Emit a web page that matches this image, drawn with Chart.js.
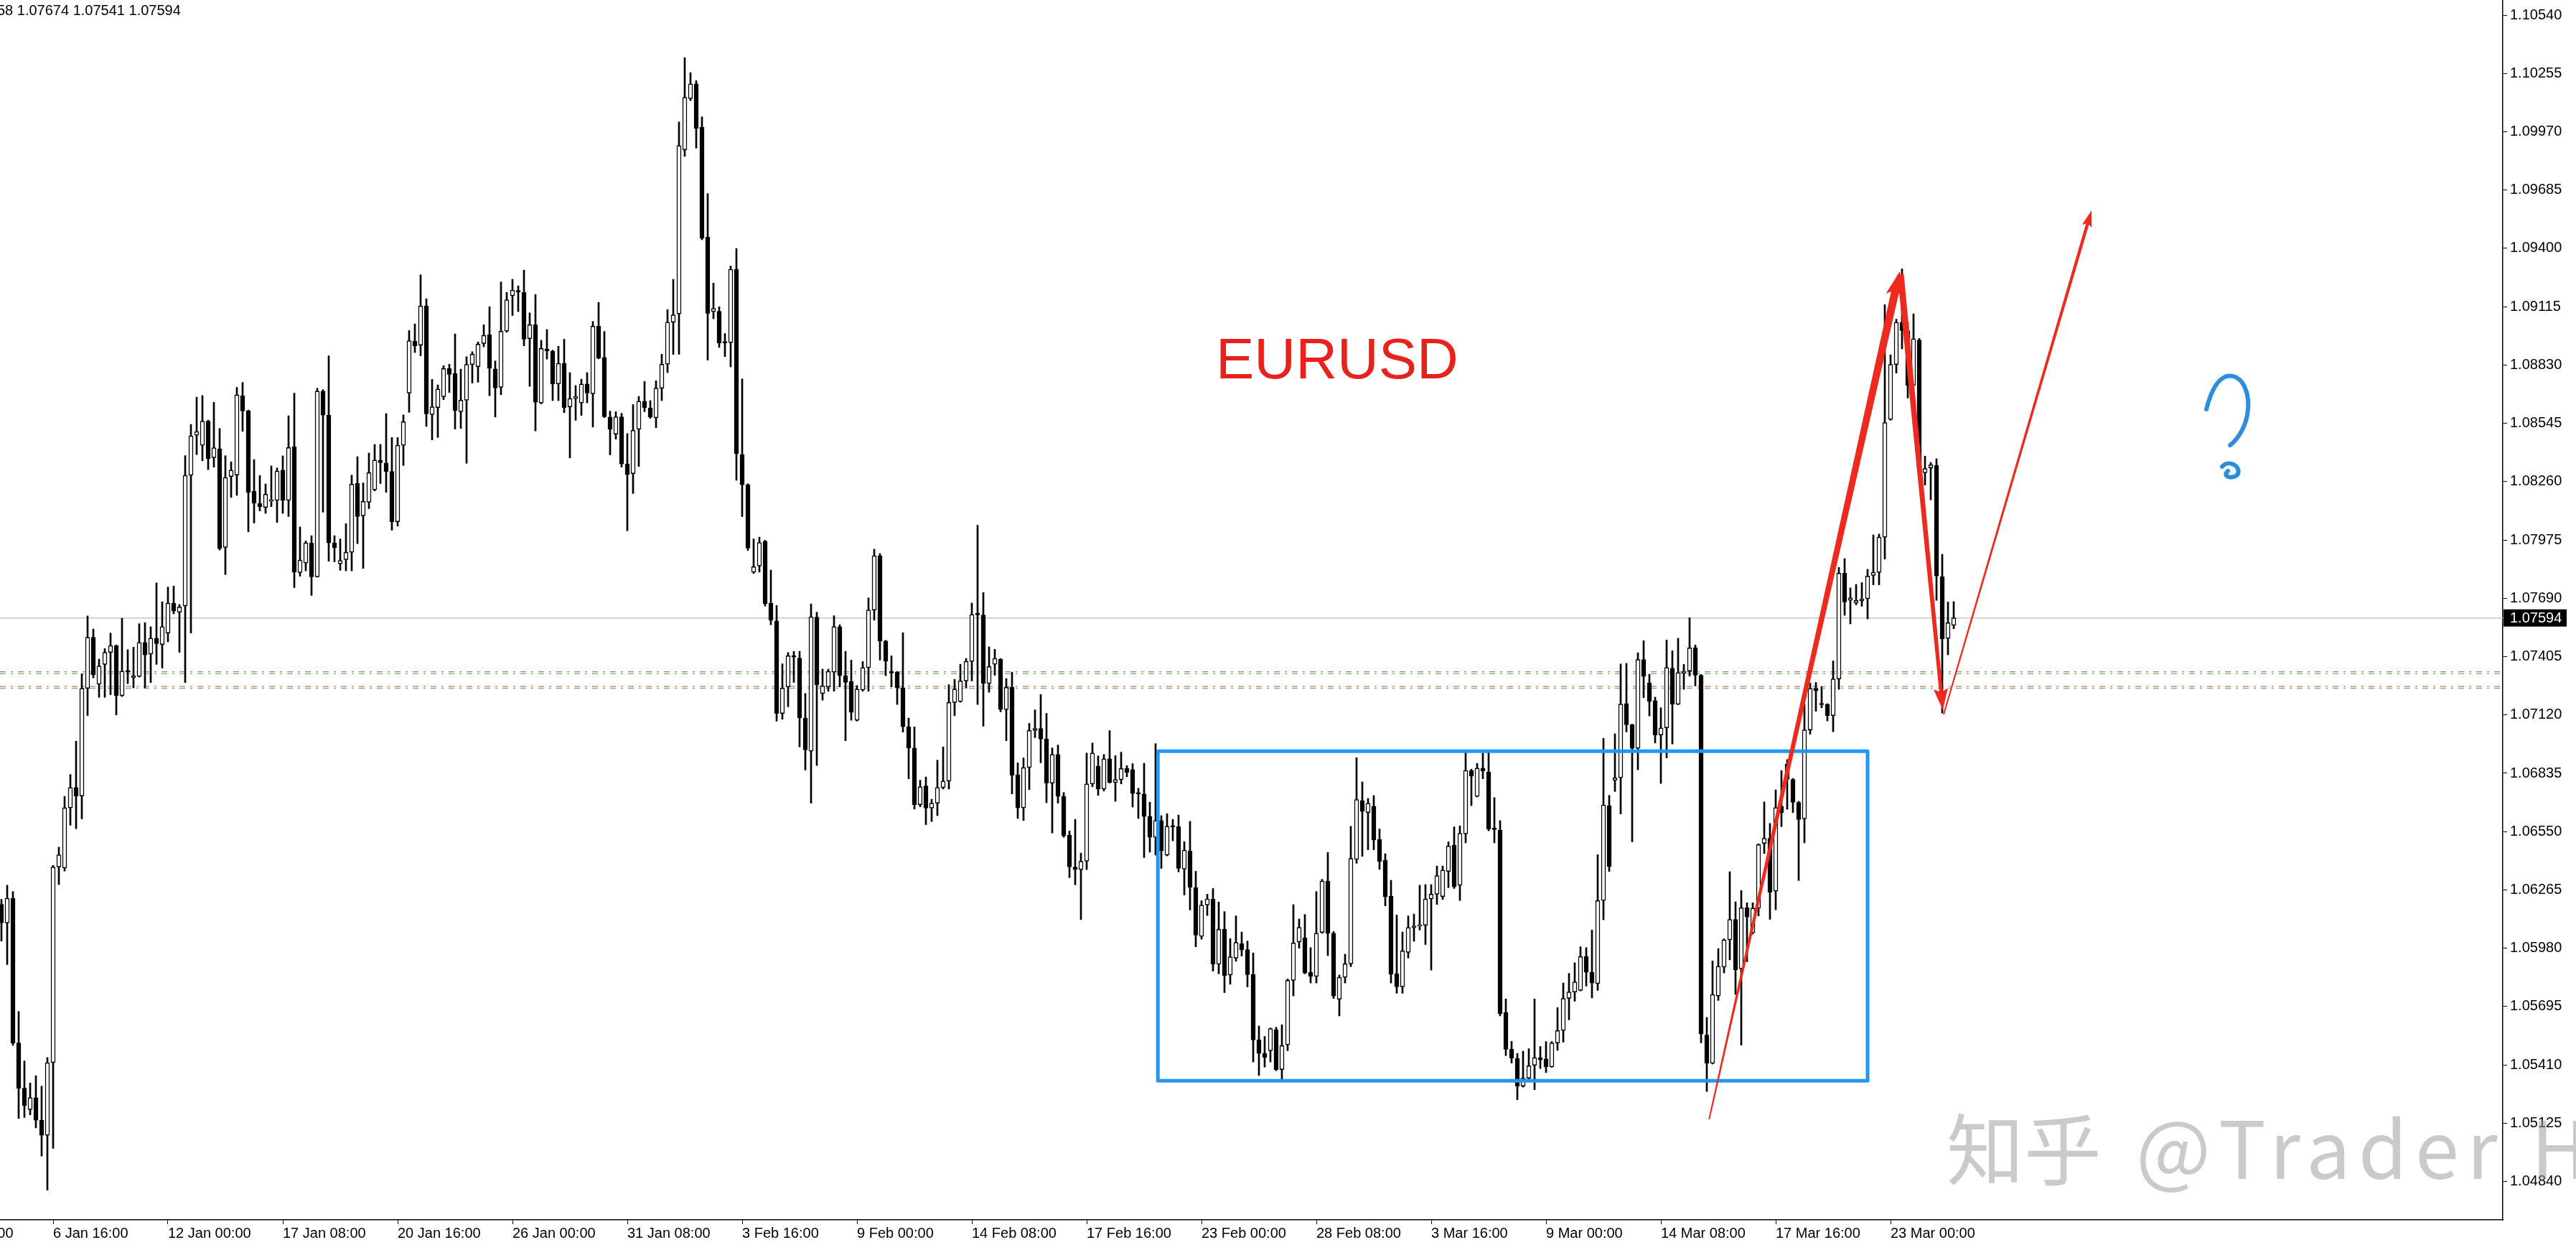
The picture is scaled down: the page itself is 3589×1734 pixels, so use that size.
<!DOCTYPE html>
<html><head><meta charset="utf-8">
<script src="https://cdn.jsdelivr.net/npm/chart.js@4.4.0/dist/chart.umd.min.js"></script>
<style>html,body{margin:0;padding:0;background:#fff;overflow:hidden}canvas{display:block}</style>
</head><body>
<canvas id="c" width="3589" height="1734"></canvas>
<script>
// ---- data: H4 EURUSD candles (index 0 = 5 Jan 04:00) ----
const opens = [
1.06194,1.06104,1.06224,1.05517,1.05296,1.05191,1.05250,1.05140,1.05066,1.05421,
1.06377,1.06372,1.06666,1.06765,1.06724,1.07250,1.07500,1.07270,1.07367,1.07426,
1.07459,1.07214,1.07334,1.07303,1.07308,1.07474,1.07418,1.07495,1.07464,1.07520,
1.07666,1.07622,1.07653,1.08291,1.08487,1.08438,1.08556,1.08377,1.08421,1.07939,
1.08285,1.08292,1.08680,1.08606,1.08214,1.08154,1.08134,1.08164,1.08169,1.08316,
1.08169,1.08430,1.07816,1.07862,1.07961,1.07795,1.08702,1.08585,1.07961,1.07859,
1.07879,1.07915,1.08251,1.08093,1.08160,1.08220,1.08365,1.08351,1.08310,1.08064,
1.08438,1.08693,1.08947,1.08927,1.09119,1.08588,1.08622,1.08676,1.08813,1.08789,
1.08602,1.08658,1.08833,1.08822,1.08935,1.08978,1.08811,1.08721,1.08996,1.09169,
1.09189,1.09185,1.08959,1.09027,1.08645,1.08908,1.08898,1.08738,1.08838,1.08626,
1.08666,1.08645,1.08737,1.08690,1.09020,1.08867,1.08576,1.08492,1.08577,1.08347,
1.08299,1.08516,1.08653,1.08621,1.08572,1.08717,1.08834,1.09040,1.09080,1.09882,
1.10132,1.10204,1.09993,1.09455,1.09091,1.09093,1.08940,1.08940,1.09298,1.08393,
1.08245,1.07818,1.07848,1.07969,1.07665,1.07579,1.07127,1.07257,1.07405,1.07398,
1.07105,1.06943,1.07598,1.07225,1.07257,1.07329,1.07551,1.07312,1.07283,1.07094,
1.07242,1.07351,1.07633,1.07898,1.07481,1.07329,1.07329,1.07253,1.07062,1.06958,
1.06682,1.06773,1.06665,1.06689,1.06765,1.06797,1.07181,1.07185,1.07286,1.07382,
1.07611,1.07608,1.07274,1.07368,1.07393,1.07147,1.07255,1.06828,1.06666,1.06863,
1.07044,1.07054,1.07002,1.06787,1.06927,1.06722,1.06533,1.06377,1.06364,1.06405,
1.06783,1.06870,1.06758,1.06906,1.06790,1.06804,1.06858,1.06853,1.06736,1.06734,
1.06625,1.06522,1.06604,1.06435,1.06574,1.06574,1.06367,1.06455,1.06276,1.06038,
1.06191,1.06221,1.05902,1.06072,1.05849,1.05932,1.06002,1.05973,1.05851,1.05532,
1.05466,1.05479,1.05581,1.05387,1.05508,1.05823,1.06011,1.06030,1.05862,1.05842,
1.06057,1.06308,1.06053,1.05731,1.05838,1.05904,1.06414,1.06701,1.06643,1.06674,
1.06512,1.06410,1.06234,1.05855,1.05791,1.05960,1.06080,1.06088,1.06092,1.06221,
1.06244,1.06233,1.06355,1.06484,1.06288,1.06539,1.06849,1.06722,1.06860,1.06841,
1.06562,1.06557,1.05665,1.05486,1.05442,1.05306,1.05345,1.05408,1.05445,1.05439,
1.05400,1.05517,1.05578,1.05735,1.05766,1.05774,1.05940,1.05862,1.05807,1.06213,
1.06677,1.06800,1.06813,1.07176,1.07072,1.06957,1.07391,1.07276,1.07190,1.07022,
1.07057,1.07348,1.07172,1.07324,1.07334,1.07448,1.07314,1.05556,1.05418,1.05747,
1.05888,1.06021,1.06121,1.05880,1.06178,1.06056,1.06176,1.06492,1.06517,1.06259,
1.06673,1.06879,1.06805,1.06693,1.06612,1.07047,1.07250,1.07172,1.07172,1.07117,
1.07296,1.07813,1.07681,1.07667,1.07677,1.07688,1.07802,1.07817,1.07989,1.08564,
1.08833,1.09039,1.08998,1.08731,1.08952,1.08304,1.08327,1.08339,1.07796,1.07494,
1.07558];
const highs = [
1.06219,1.06288,1.06257,1.05671,1.05429,1.05321,1.05357,1.05306,1.05446,1.06385,
1.06474,1.06722,1.06829,1.06992,1.07321,1.07604,1.07540,1.07393,1.07444,1.07520,
1.07462,1.07592,1.07439,1.07451,1.07566,1.07571,1.07551,1.07765,1.07673,1.07745,
1.07750,1.07660,1.08387,1.08540,1.08673,1.08681,1.08561,1.08648,1.08520,1.08387,
1.08357,1.08721,1.08745,1.08610,1.08368,1.08290,1.08249,1.08337,1.08327,1.08386,
1.08582,1.08693,1.08039,1.07970,1.07996,1.08716,1.08710,1.08875,1.07996,1.07980,
1.08055,1.08292,1.08382,1.08254,1.08400,1.08442,1.08442,1.08593,1.08476,1.08476,
1.08586,1.08999,1.09031,1.09271,1.09154,1.08760,1.08733,1.08827,1.08834,1.08982,
1.08810,1.08871,1.08895,1.08943,1.09027,1.09115,1.08850,1.09236,1.09185,1.09249,
1.09217,1.09294,1.09085,1.09175,1.08951,1.09004,1.08903,1.08922,1.08956,1.08793,
1.08730,1.08761,1.08793,1.09043,1.09136,1.08994,1.08605,1.08602,1.08594,1.08495,
1.08637,1.08677,1.08750,1.08656,1.08753,1.08883,1.09101,1.09249,1.10018,1.10332,
1.10259,1.10220,1.10043,1.09668,1.09230,1.09115,1.08984,1.09314,1.09400,1.08762,
1.08250,1.07980,1.07989,1.07974,1.07828,1.07655,1.07370,1.07425,1.07431,1.07431,
1.07225,1.07663,1.07622,1.07344,1.07344,1.07605,1.07561,1.07431,1.07388,1.07264,
1.07381,1.07692,1.07930,1.07909,1.07485,1.07409,1.07333,1.07522,1.07105,1.07062,
1.06801,1.06817,1.06708,1.06899,1.06964,1.07268,1.07294,1.07368,1.07396,1.07667,
1.08047,1.07718,1.07453,1.07441,1.07396,1.07298,1.07329,1.06886,1.06910,1.07079,
1.07145,1.07220,1.07128,1.06959,1.06973,1.06741,1.06553,1.06610,1.06445,1.06934,
1.06983,1.06920,1.06927,1.07044,1.06921,1.06938,1.06872,1.06882,1.06762,1.06884,
1.06694,1.06980,1.06628,1.06638,1.06610,1.06631,1.06501,1.06600,1.06356,1.06212,
1.06244,1.06272,1.06206,1.06159,1.06027,1.06138,1.06059,1.06015,1.05957,1.05600,
1.05549,1.05590,1.05594,1.05606,1.05830,1.06193,1.06123,1.06145,1.05983,1.06257,
1.06317,1.06448,1.06062,1.05849,1.05951,1.06576,1.06911,1.06793,1.06712,1.06726,
1.06563,1.06442,1.06312,1.06142,1.06059,1.06138,1.06147,1.06288,1.06291,1.06291,
1.06382,1.06382,1.06500,1.06573,1.06578,1.06938,1.06855,1.06883,1.06933,1.06943,
1.06716,1.06604,1.05732,1.05525,1.05466,1.05477,1.05489,1.05732,1.05500,1.05524,
1.05524,1.05690,1.05810,1.05857,1.05909,1.05987,1.05983,1.06069,1.06437,1.07006,
1.06727,1.07028,1.07369,1.07372,1.07075,1.07424,1.07483,1.07319,1.07207,1.07155,
1.07486,1.07434,1.07495,1.07367,1.07595,1.07462,1.07318,1.05642,1.05918,1.05978,
1.06026,1.06354,1.06207,1.06262,1.06202,1.06202,1.06490,1.06695,1.06590,1.06754,
1.06848,1.06902,1.06810,1.06698,1.07172,1.07276,1.07279,1.07259,1.07175,1.07384,
1.07841,1.07884,1.07741,1.07758,1.07767,1.07832,1.08000,1.08004,1.09125,1.08880,
1.09054,1.09300,1.09039,1.09080,1.08960,1.08385,1.08354,1.08372,1.07905,1.07672,
1.07674];
const lows = [
1.06015,1.05900,1.05505,1.05148,1.05153,1.05166,1.05102,1.04964,1.04798,1.05002,
1.06291,1.06357,1.06581,1.06564,1.06612,1.07117,1.07301,1.07206,1.07206,1.07219,
1.07120,1.07210,1.07273,1.07252,1.07305,1.07252,1.07278,1.07367,1.07349,1.07477,
1.07614,1.07426,1.07278,1.07520,1.08392,1.08362,1.08319,1.08331,1.07926,1.07806,
1.08183,1.08193,1.08506,1.08015,1.08058,1.08117,1.08105,1.08138,1.08061,1.08105,
1.08090,1.07742,1.07798,1.07824,1.07704,1.07793,1.08111,1.07871,1.07868,1.07827,
1.07824,1.07824,1.07957,1.07836,1.08128,1.08215,1.08251,1.08208,1.08023,1.08043,
1.08339,1.08599,1.08891,1.08875,1.08530,1.08464,1.08476,1.08661,1.08696,1.08517,
1.08520,1.08350,1.08742,1.08746,1.08919,1.08680,1.08576,1.08685,1.08990,1.09072,
1.09091,1.08924,1.08726,1.08508,1.08640,1.08859,1.08656,1.08656,1.08597,1.08376,
1.08560,1.08584,1.08645,1.08527,1.08860,1.08573,1.08391,1.08468,1.08331,1.08020,
1.08202,1.08334,1.08602,1.08569,1.08524,1.08656,1.08793,1.08882,1.08883,1.09850,
1.10122,1.09890,1.09442,1.08854,1.09056,1.08916,1.08871,1.08821,1.08267,1.08089,
1.07924,1.07811,1.07818,1.07652,1.07561,1.07090,1.07099,1.07160,1.07279,1.06964,
1.06851,1.06689,1.06873,1.07192,1.07236,1.07236,1.07257,1.06994,1.07094,1.07090,
1.07236,1.07236,1.07583,1.07388,1.07312,1.07257,1.07171,1.07036,1.06808,1.06660,
1.06671,1.06584,1.06599,1.06628,1.06758,1.06758,1.07116,1.07182,1.07251,1.07286,
1.07171,1.07065,1.07231,1.07314,1.07135,1.06994,1.06734,1.06614,1.06604,1.06755,
1.07009,1.06886,1.06691,1.06543,1.06689,1.06522,1.06325,1.06290,1.06120,1.06364,
1.06769,1.06727,1.06748,1.06787,1.06698,1.06783,1.06818,1.06670,1.06614,1.06423,
1.06449,1.06435,1.06370,1.06431,1.06505,1.06353,1.06240,1.06167,1.05987,1.06024,
1.06140,1.05868,1.05855,1.05763,1.05804,1.05916,1.05942,1.05791,1.05424,1.05358,
1.05399,1.05424,1.05381,1.05339,1.05479,1.05747,1.05980,1.05855,1.05810,1.05810,
1.06053,1.05944,1.05734,1.05649,1.05810,1.05890,1.06395,1.06429,1.06461,1.06461,
1.06365,1.06187,1.05810,1.05760,1.05760,1.05932,1.06014,1.06069,1.05998,1.05873,
1.06194,1.06218,1.06276,1.06272,1.06213,1.06495,1.06677,1.06719,1.06808,1.06554,
1.06495,1.05649,1.05455,1.05419,1.05239,1.05301,1.05341,1.05289,1.05392,1.05372,
1.05398,1.05481,1.05521,1.05630,1.05721,1.05771,1.05795,1.05737,1.05774,1.06119,
1.06355,1.06746,1.06636,1.07037,1.06500,1.06852,1.07204,1.07115,1.06983,1.06785,
1.06910,1.06978,1.07170,1.07245,1.07310,1.07262,1.05518,1.05280,1.05414,1.05725,
1.05859,1.05923,1.05754,1.05506,1.05914,1.06049,1.06138,1.06443,1.06121,1.06168,
1.06574,1.06659,1.06643,1.06311,1.06495,1.07026,1.07138,1.07155,1.07091,1.07038,
1.07245,1.07607,1.07565,1.07658,1.07651,1.07589,1.07756,1.07756,1.07882,1.08560,
1.08791,1.08909,1.08669,1.08728,1.08320,1.08243,1.08171,1.07680,1.07129,1.07414,
1.07541];
const closes = [
1.06104,1.06224,1.05517,1.05296,1.05211,1.05250,1.05140,1.05066,1.05421,1.06377,
1.06436,1.06666,1.06765,1.06724,1.07250,1.07500,1.07316,1.07359,1.07426,1.07459,
1.07214,1.07334,1.07330,1.07311,1.07474,1.07413,1.07495,1.07469,1.07551,1.07666,
1.07627,1.07648,1.08291,1.08484,1.08505,1.08556,1.08372,1.08426,1.07933,1.08280,
1.08316,1.08684,1.08605,1.08208,1.08155,1.08138,1.08199,1.08172,1.08312,1.08169,
1.08427,1.07818,1.07877,1.07961,1.07795,1.08702,1.08585,1.07961,1.07938,1.07875,
1.07915,1.08248,1.08090,1.08164,1.08304,1.08365,1.08353,1.08310,1.08064,1.08438,
1.08553,1.08949,1.08924,1.09119,1.08591,1.08626,1.08713,1.08813,1.08784,1.08608,
1.08658,1.08833,1.08883,1.08932,1.08975,1.08814,1.08718,1.08995,1.09149,1.09196,
1.09187,1.08956,1.09027,1.08648,1.08911,1.08898,1.08738,1.08838,1.08621,1.08666,
1.08677,1.08737,1.08693,1.09020,1.08863,1.08577,1.08516,1.08577,1.08347,1.08294,
1.08511,1.08653,1.08621,1.08576,1.08717,1.08834,1.09040,1.09075,1.09902,1.10138,
1.10204,1.09987,1.09450,1.09083,1.09107,1.08938,1.08938,1.09298,1.08397,1.08245,
1.07935,1.07844,1.07963,1.07663,1.07583,1.07127,1.07251,1.07409,1.07403,1.07105,
1.06949,1.07600,1.07268,1.07262,1.07333,1.07551,1.07312,1.07279,1.07133,1.07246,
1.07351,1.07633,1.07898,1.07481,1.07383,1.07325,1.07253,1.07062,1.06958,1.06682,
1.06769,1.06665,1.06689,1.06765,1.06797,1.07181,1.07246,1.07286,1.07382,1.07611,
1.07609,1.07274,1.07357,1.07396,1.07147,1.07255,1.06825,1.06666,1.06863,1.07044,
1.07054,1.07002,1.06787,1.06927,1.06722,1.06529,1.06377,1.06364,1.06405,1.06783,
1.06934,1.06759,1.06906,1.06790,1.06804,1.06858,1.06839,1.06736,1.06734,1.06624,
1.06522,1.06604,1.06455,1.06576,1.06572,1.06370,1.06459,1.06278,1.06044,1.06191,
1.06221,1.05902,1.06072,1.05846,1.05938,1.06008,1.05973,1.05851,1.05532,1.05466,
1.05447,1.05587,1.05387,1.05504,1.05823,1.06006,1.06082,1.05859,1.05842,1.06053,
1.06308,1.06053,1.05747,1.05838,1.05904,1.06419,1.06707,1.06648,1.06688,1.06509,
1.06404,1.06231,1.05853,1.05791,1.05967,1.06081,1.06088,1.06094,1.06221,1.06244,
1.06335,1.06362,1.06479,1.06280,1.06542,1.06849,1.06821,1.06860,1.06847,1.06562,
1.06560,1.05661,1.05486,1.05442,1.05306,1.05345,1.05406,1.05445,1.05434,1.05400,
1.05517,1.05578,1.05735,1.05766,1.05815,1.05939,1.05862,1.05810,1.06213,1.06680,
1.06379,1.06813,1.07173,1.07072,1.06957,1.07391,1.07309,1.07186,1.07022,1.07057,
1.07352,1.07172,1.07327,1.07334,1.07448,1.07314,1.05561,1.05418,1.05754,1.05892,
1.06021,1.06121,1.05875,1.06178,1.06133,1.06176,1.06486,1.06517,1.06254,1.06667,
1.06643,1.06805,1.06693,1.06609,1.07047,1.07250,1.07238,1.07170,1.07117,1.07296,
1.07813,1.07672,1.07693,1.07679,1.07686,1.07799,1.07817,1.07989,1.08549,1.08833,
1.09039,1.08998,1.08731,1.08958,1.08324,1.08324,1.08343,1.07799,1.07491,1.07571,
1.07594];

// time-axis labels (bar index -> label)
const timeTickIndex = [-11, 9, 29, 49, 69, 89, 109, 129, 149, 169, 189, 209, 229, 249, 269, 289, 309, 329];
const timeTickLabels = ["3 Jan 08:00","6 Jan 16:00","12 Jan 00:00","17 Jan 08:00","20 Jan 16:00","26 Jan 00:00",
  "31 Jan 08:00","3 Feb 16:00","9 Feb 00:00","14 Feb 08:00","17 Feb 16:00","23 Feb 00:00","28 Feb 08:00",
  "3 Mar 16:00","9 Mar 00:00","14 Mar 08:00","17 Mar 16:00","23 Mar 00:00"];
// price-axis labels
const priceTicks = [1.04840,1.05125,1.05410,1.05695,1.05980,1.06265,1.06550,1.06835,1.07120,1.07405,
  1.07690,1.07975,1.08260,1.08545,1.08830,1.09115,1.09400,1.09685,1.09970,1.10255,1.10540];
const infoText = "58 1.07674 1.07541 1.07594";
const lastPrice = 1.07594;
const levelPrices = [1.07331, 1.07322, 1.07259, 1.07250];
const levelColors = ["#c87a5c", "#5c9a55", "#c87a5c", "#5c9a55"];
// drawn annotations (bar index, price)
const boxCorners = [[201.4, 1.06943], [325.0, 1.05332]];
const arrowUp1 = [[297.4, 1.05144], [330.6, 1.09288]];
const arrowDown = [[330.75, 1.09274], [338.1, 1.07144]];
const arrowUp2 = [[338.25, 1.07123], [364.0, 1.09586]];
const titleText = "EURUSD";
const titleAnchor = [211.5, 1.08765];
const questionAnchor = [384.0, 1.08614];
const watermarkCJK = "知乎";
const watermarkLatin = "@Trader H";

const idx = opens.map((_, i) => i);
const up = idx.map(i => closes[i] >= opens[i]);

function taperArrow(ctx, x0, y0, x1, y1, w0, w1, hl, hw) {
  const dx = x1 - x0, dy = y1 - y0, L = Math.hypot(dx, dy);
  const ux = dx / L, uy = dy / L, nx = -uy, ny = ux;
  const bx = x1 - ux * hl, by = y1 - uy * hl;
  ctx.beginPath();
  ctx.moveTo(x0 + nx * w0 / 2, y0 + ny * w0 / 2);
  ctx.lineTo(bx + nx * w1 / 2, by + ny * w1 / 2);
  ctx.lineTo(bx - ux * hl * 0.15 + nx * hw / 2, by - uy * hl * 0.15 + ny * hw / 2);
  ctx.lineTo(x1, y1);
  ctx.lineTo(bx - ux * hl * 0.15 - nx * hw / 2, by - uy * hl * 0.15 - ny * hw / 2);
  ctx.lineTo(bx - nx * w1 / 2, by - ny * w1 / 2);
  ctx.lineTo(x0 - nx * w0 / 2, y0 - ny * w0 / 2);
  ctx.closePath();
  ctx.fill();
}

const overlay = {
  id: 'overlay',
  beforeDatasetsDraw(chart) {
    const { ctx, chartArea: a, scales: { y } } = chart;
    ctx.save();
    ctx.strokeStyle = '#c4c4c4'; ctx.lineWidth = 1.5;
    const py = y.getPixelForValue(lastPrice);
    ctx.beginPath(); ctx.moveTo(a.left, py); ctx.lineTo(a.right, py); ctx.stroke();
    ctx.lineWidth = 1.1;
    ctx.setLineDash([8, 7, 3, 7]);
    levelPrices.forEach((v, i) => {
      const ly = y.getPixelForValue(v);
      ctx.strokeStyle = levelColors[i];
      ctx.beginPath(); ctx.moveTo(a.left, ly); ctx.lineTo(a.right, ly); ctx.stroke();
    });
    ctx.restore();
  },
  afterDatasetsDraw(chart) {
    const { ctx, scales: { x, y } } = chart;
    const P = (p) => [x.getPixelForValue(p[0]), y.getPixelForValue(p[1])];
    ctx.save();
    // blue box
    const [b0, b1] = [P(boxCorners[0]), P(boxCorners[1])];
    ctx.strokeStyle = '#2196f3'; ctx.lineWidth = 5; ctx.lineJoin = 'round';
    ctx.strokeRect(b0[0], b0[1], b1[0] - b0[0], b1[1] - b0[1]);
    // red arrows
    ctx.fillStyle = '#ee2a1e';
    let s = P(arrowUp1[0]), e = P(arrowUp1[1]);
    taperArrow(ctx, s[0], s[1], e[0], e[1], 2, 11, 30, 24);
    s = P(arrowDown[0]); e = P(arrowDown[1]);
    taperArrow(ctx, s[0], s[1], e[0], e[1], 9, 5, 26, 20);
    s = P(arrowUp2[0]); e = P(arrowUp2[1]);
    taperArrow(ctx, s[0], s[1], e[0], e[1], 2, 4.5, 20, 14);
    // title
    const t = P(titleAnchor);
    ctx.fillStyle = '#e8221b';
    ctx.font = '80px "Liberation Sans", Arial, sans-serif';
    ctx.textBaseline = 'alphabetic';
    ctx.fillText(titleText, t[0], t[1]);
    // blue question mark
    const q = P(questionAnchor);
    ctx.strokeStyle = '#2a8de0'; ctx.lineWidth = 6; ctx.lineCap = 'round'; ctx.lineJoin = 'round';
    ctx.beginPath();
    ctx.moveTo(q[0], q[1]);
    ctx.quadraticCurveTo(q[0] + 10, q[1] - 40, q[0] + 28, q[1] - 46);
    ctx.bezierCurveTo(q[0] + 52, q[1] - 50, q[0] + 62, q[1] - 20, q[0] + 57, q[1] + 8);
    ctx.bezierCurveTo(q[0] + 53, q[1] + 30, q[0] + 40, q[1] + 45, q[0] + 33, q[1] + 50);
    ctx.stroke();
    ctx.beginPath();
    ctx.moveTo(q[0] + 22, q[1] + 80);
    ctx.bezierCurveTo(q[0] + 30, q[1] + 70, q[0] + 48, q[1] + 78, q[0] + 44, q[1] + 90);
    ctx.bezierCurveTo(q[0] + 40, q[1] + 98, q[0] + 20, q[1] + 95, q[0] + 30, q[1] + 86);
    ctx.stroke();
    ctx.restore();
  },
  afterDraw(chart) {
    const { ctx, scales: { y } } = chart;
    ctx.save();
    // current price box on axis
    const py = y.getPixelForValue(lastPrice);
    ctx.fillStyle = '#000';
    ctx.fillRect(y.left + 1, py - 12, 88, 24);
    ctx.fillStyle = '#fff';
    ctx.font = '20px "Liberation Sans", Arial, sans-serif';
    ctx.textBaseline = 'middle';
    ctx.fillText(lastPrice.toFixed(5), y.left + 10, py + 1);
    // OHLC info text
    ctx.fillStyle = '#000';
    ctx.textBaseline = 'alphabetic';
    ctx.fillText(infoText, -4, 21);
    // watermark
    ctx.fillStyle = 'rgba(150,150,150,0.5)';
    ctx.font = '108px "Noto Sans CJK SC", sans-serif';
    ctx.fillText(watermarkCJK, 2712, 1642);
    ctx.font = '110px "Noto Sans CJK SC", "Noto Sans", sans-serif';
    if ('letterSpacing' in ctx) ctx.letterSpacing = '11px';
    ctx.fillText(watermarkLatin, 2976, 1642);
    ctx.restore();
  }
};

new Chart(document.getElementById('c').getContext('2d'), {
  type: 'bar',
  data: {
    datasets: [
      {
        data: idx.map(i => ({ x: i, y: [opens[i], closes[i]] })),
        backgroundColor: up.map(u => u ? '#ffffff' : '#000000'),
        borderColor: '#000000', borderWidth: 1.5, borderSkipped: false,
        barThickness: 6, minBarLength: 2, grouped: false
      },
      {
        data: idx.map(i => ({ x: i, y: [lows[i], highs[i]] })),
        backgroundColor: '#000000', borderWidth: 0,
        barThickness: 2, grouped: false
      }
    ]
  },
  options: {
    responsive: false, animation: false, devicePixelRatio: 1,
    layout: { padding: 0 },
    plugins: { legend: { display: false }, tooltip: { enabled: false } },
    scales: {
      x: {
        type: 'linear', position: 'bottom', offset: false,
        min: -0.25, max: 435.625,
        afterBuildTicks: (s) => { s.ticks = timeTickIndex.map(v => ({ value: v })); },
        afterFit: (s) => { s.height = 35; s.paddingLeft = 0; s.paddingRight = 0; },
        grid: { drawOnChartArea: false, drawTicks: true, tickLength: 6, color: '#000', offset: false },
        border: { display: true, color: '#000', width: 1.5 },
        ticks: {
          autoSkip: false, maxRotation: 0, minRotation: 0, align: 'start', padding: 1,
          color: '#000', font: { family: '"Liberation Sans", Arial, sans-serif', size: 20 },
          callback: (v, i) => timeTickLabels[i]
        }
      },
      y: {
        type: 'linear', position: 'right',
        min: 1.046525, max: 1.106139,
        afterBuildTicks: (s) => { s.ticks = priceTicks.map(v => ({ value: v })); },
        afterFit: (s) => { s.width = 102; s.paddingTop = 0; s.paddingBottom = 0; },
        grid: { drawOnChartArea: false, drawTicks: true, tickLength: 6, color: '#000' },
        border: { display: true, color: '#000', width: 1.5 },
        ticks: {
          autoSkip: false, padding: 4, color: '#000',
          font: { family: '"Liberation Sans", Arial, sans-serif', size: 20 },
          callback: (v, i) => priceTicks[i].toFixed(5)
        }
      }
    }
  },
  plugins: [overlay]
});
</script>
</body></html>
